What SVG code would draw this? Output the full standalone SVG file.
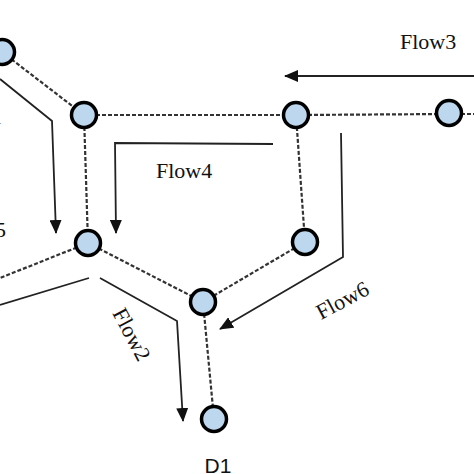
<svg xmlns="http://www.w3.org/2000/svg" width="474" height="474" viewBox="0 0 474 474">
<defs>
<marker id="ah" viewBox="0 0 14 12" refX="13" refY="6" markerWidth="14" markerHeight="12" markerUnits="userSpaceOnUse" orient="auto">
<path d="M0,0 L14,6 L0,12 Z" fill="#111"/>
</marker>
<style>
.dash{stroke:#333;stroke-width:2.2;stroke-dasharray:4 2;fill:none}
.flow{stroke:#222;stroke-width:1.8;fill:none}
.node{fill:#bdd7ee;stroke:#000;stroke-width:3.5}
.lbl{font-family:"Liberation Serif",serif;font-size:22px;fill:#111}
.sans{font-family:"Liberation Sans",sans-serif;font-size:21px;fill:#111}
</style>
</defs>
<rect width="474" height="474" fill="#fff"/>
<g id="connectors">
<line class="dash" x1="2" y1="52" x2="84" y2="115"/>
<line class="dash" x1="84" y1="115" x2="296" y2="115"/>
<line class="dash" x1="296" y1="115" x2="449" y2="114"/>
<line class="dash" x1="449" y1="114" x2="474" y2="114"/>
<line class="dash" x1="84" y1="115" x2="88" y2="243"/>
<line class="dash" x1="296" y1="115" x2="305" y2="242"/>
<line class="dash" x1="88" y1="243" x2="0" y2="278"/>
<line class="dash" x1="88" y1="243" x2="203" y2="302"/>
<line class="dash" x1="305" y1="242" x2="203" y2="302"/>
<line class="dash" x1="203" y1="302" x2="214" y2="419"/>
</g>
<g id="flows">
<polyline class="flow" points="0,79 52,121 56,233" marker-end="url(#ah)"/>
<polyline class="flow" points="273,144 115,143 116,233" marker-end="url(#ah)"/>
<line class="flow" x1="474" y1="76" x2="285" y2="76" marker-end="url(#ah)"/>
<polyline class="flow" points="341,133 343,257 220,329" marker-end="url(#ah)"/>
<line class="flow" x1="0" y1="305" x2="89" y2="278"/>
<polyline class="flow" points="100,278 177,321 183,421" marker-end="url(#ah)"/>
</g>
<g id="n0"><circle class="node" cx="2" cy="52" r="12.5"/></g>
<g id="n1"><circle class="node" cx="84" cy="115" r="12.5"/></g>
<g id="n2"><circle class="node" cx="296" cy="115" r="12.5"/></g>
<g id="n3"><circle class="node" cx="449" cy="113" r="12.5"/></g>
<g id="n4"><circle class="node" cx="88" cy="243" r="12.5"/></g>
<g id="n5"><circle class="node" cx="305" cy="242" r="12.5"/></g>
<g id="n6"><circle class="node" cx="203" cy="302" r="12.5"/></g>
<g id="d1"><circle class="node" cx="214" cy="419" r="12.5"/>
<text class="sans" x="218" y="473" text-anchor="middle">D1</text></g>
<g id="labels">
<text class="lbl" x="400" y="49">Flow3</text>
<text class="lbl" x="156" y="178">Flow4</text>
<text class="lbl" transform="translate(321,320) rotate(-28)">Flow6</text>
<text class="lbl" transform="translate(112,313) rotate(62)">Flow2</text>
<text class="lbl" x="6" y="237" text-anchor="end">Flow5</text>
<text class="lbl" x="2" y="124" text-anchor="end">Flow1</text>
</g>
</svg>
